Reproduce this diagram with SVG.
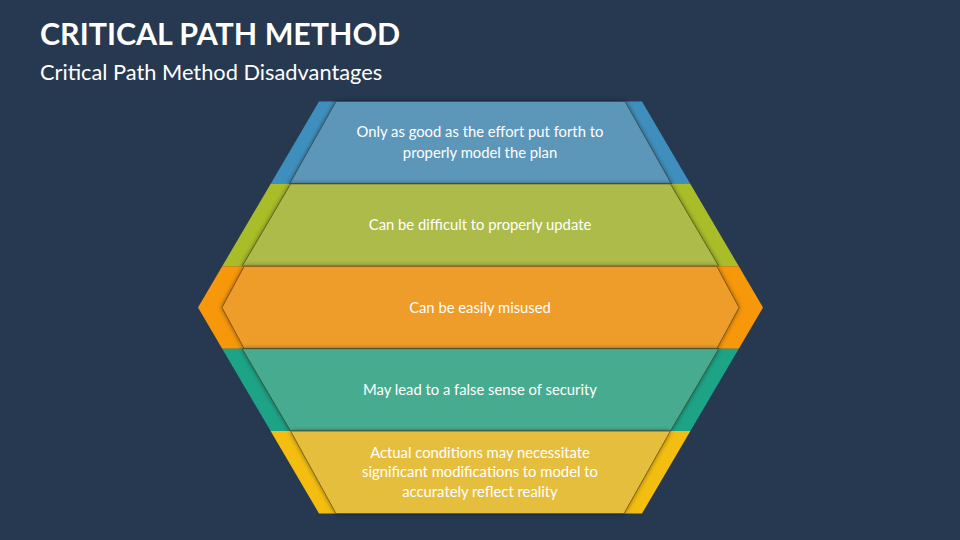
<svg xmlns="http://www.w3.org/2000/svg" width="960" height="540" viewBox="0 0 960 540">
<defs>
<filter id="sh" x="-10%" y="-10%" width="120%" height="120%">
<feDropShadow dx="0" dy="0" stdDeviation="2.5" flood-color="#000" flood-opacity="0.45"/>
</filter>
<style>
.t{font-family:"Lato","Liberation Sans",sans-serif;font-size:14.8px;fill:#fff;text-anchor:middle}
.in{stroke:#3a2a10;stroke-opacity:0.55;stroke-width:1;filter:url(#sh)}
.out{stroke:none}
</style>
</defs>
<rect width="960" height="540" fill="#263951"/>
<text x="40" y="45" font-family="Lato,'Liberation Sans',sans-serif" font-weight="bold" font-size="30.4" fill="#fff">CRITICAL PATH METHOD</text>
<text x="40" y="80" font-family="Lato,'Liberation Sans',sans-serif" font-size="21.8" fill="#fff">Critical Path Method Disadvantages</text>

<g id="band1">
<polygon class="out" fill="#3F8FBE" points="319,101.5 642,101.5 690.4,183.9 270.6,183.9"/>
<polygon class="in" fill="#5B97BA" points="336,101.5 625,101.5 671.4,183.9 289.6,183.9"/>
<text class="t" x="480" y="137">Only as good as the effort put forth to</text>
<text class="t" x="480" y="158">properly model the plan</text>
</g>
<g id="band2">
<polygon class="out" fill="#A9BD29" points="270.6,183.9 690.4,183.9 738.8,266.3 222.2,266.3"/>
<polygon class="in" fill="#ACBB48" points="290.6,183.9 670.4,183.9 718.8,266.3 242.2,266.3"/>
<text class="t" x="480" y="230">Can be difficult to properly update</text>
</g>
<g id="band3">
<polygon class="out" fill="#F7980B" points="222.2,266.3 738.8,266.3 763,307.5 738.8,348.7 222.2,348.7 198,307.5"/>
<polygon class="in" fill="#EE9D2B" points="244.2,266.3 716.8,266.3 739,307.5 716.8,348.7 244.2,348.7 222,307.5"/>
<text class="t" x="480" y="312.5">Can be easily misused</text>
</g>
<g id="band4">
<polygon class="out" fill="#1DA386" points="222.2,348.7 738.8,348.7 690.4,431.1 270.6,431.1"/>
<polygon class="in" fill="#47AC8F" points="242.2,348.7 718.8,348.7 670.4,431.1 290.6,431.1"/>
<text class="t" x="480" y="395">May lead to a false sense of security</text>
</g>
<g id="band5">
<polygon class="out" fill="#F3BE10" points="270.6,431.1 690.4,431.1 642,513.5 319,513.5"/>
<polygon class="in" fill="#E6BE3D" points="290.6,431.1 670.4,431.1 624,513.5 336,513.5"/>
<text class="t" x="480" y="458">Actual conditions may necessitate</text>
<text class="t" x="480" y="477">significant modifications to model to</text>
<text class="t" x="480" y="497">accurately reflect reality</text>
</g>
<g id="connectors"/>
</svg>
